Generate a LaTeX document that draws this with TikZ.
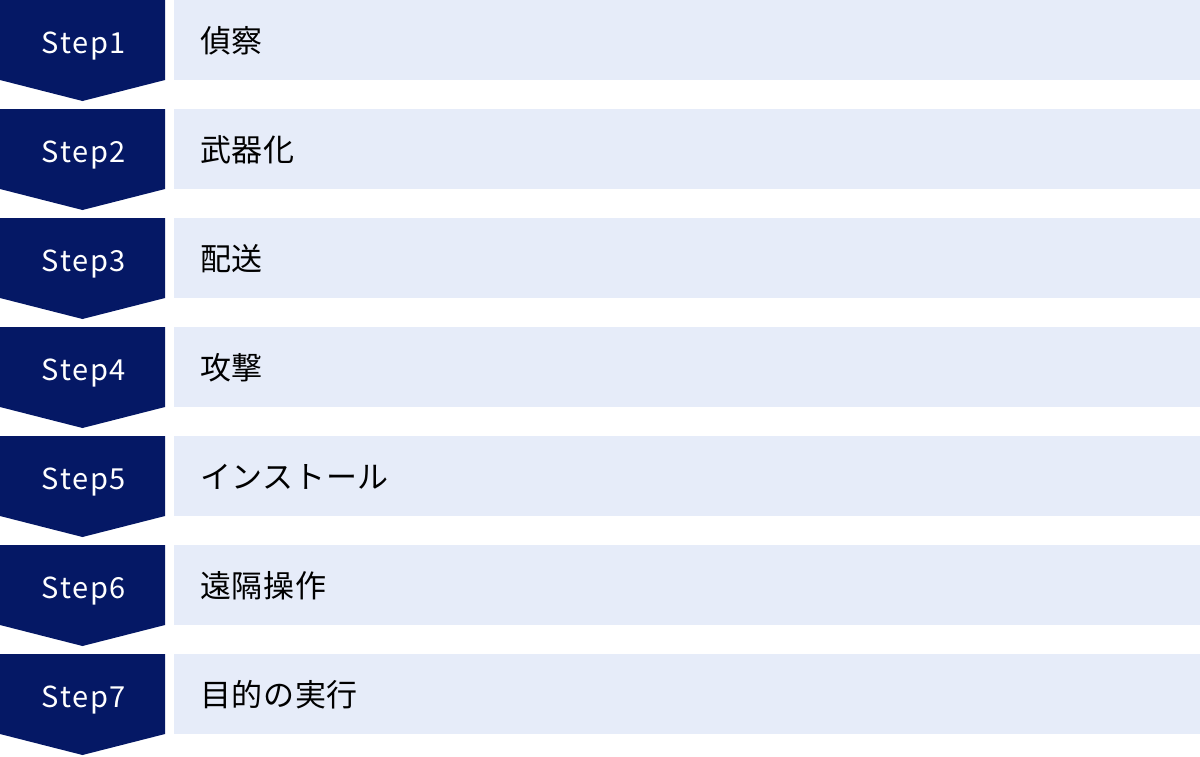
\documentclass[tikz,border=0pt]{standalone}
\usepackage{fontspec}
\setmainfont{Noto Sans CJK JP}
\newfontfamily\stepfont[LetterSpace=6]{Noto Sans CJK JP}
\newfontfamily\barfont[LetterSpace=2]{Noto Sans CJK JP}
\usetikzlibrary{calc}

\definecolor{stepnavy}{HTML}{051865}
\definecolor{barblue}{HTML}{E6ECF9}

\begin{document}
\begin{tikzpicture}[x=1pt, y=1pt,
    steplabel/.style={text=white, font=\stepfont\fontsize{29}{29}\selectfont, anchor=base, inner sep=0pt},
    barlabel/.style={text=black, font=\barfont\fontsize{31}{31}\selectfont, anchor=base west, inner sep=0pt}]

% Bounding box
\useasboundingbox (0,0) rectangle (1200,-756);

% Steps
\foreach \n/\txt [count=\i from 0] in {1/偵察, 2/武器化, 3/配送, 4/攻撃, 5/インストール, 6/遠隔操作, 7/目的の実行} {
    \pgfmathsetmacro{\rowtop}{-109*\i}
    \fill[stepnavy] (0,\rowtop) -- (165,\rowtop) -- (165,\rowtop-80) -- (82.5,\rowtop-101) -- (0,\rowtop-80) -- cycle;
    \fill[barblue] (174,\rowtop) rectangle (1200,\rowtop-80);
    \node[steplabel] (step\n) at (84,\rowtop-53) {Step\n};
    \node[barlabel] (phase\n) at (200,\rowtop-52) {\txt};
}

\end{tikzpicture}
\end{document}
